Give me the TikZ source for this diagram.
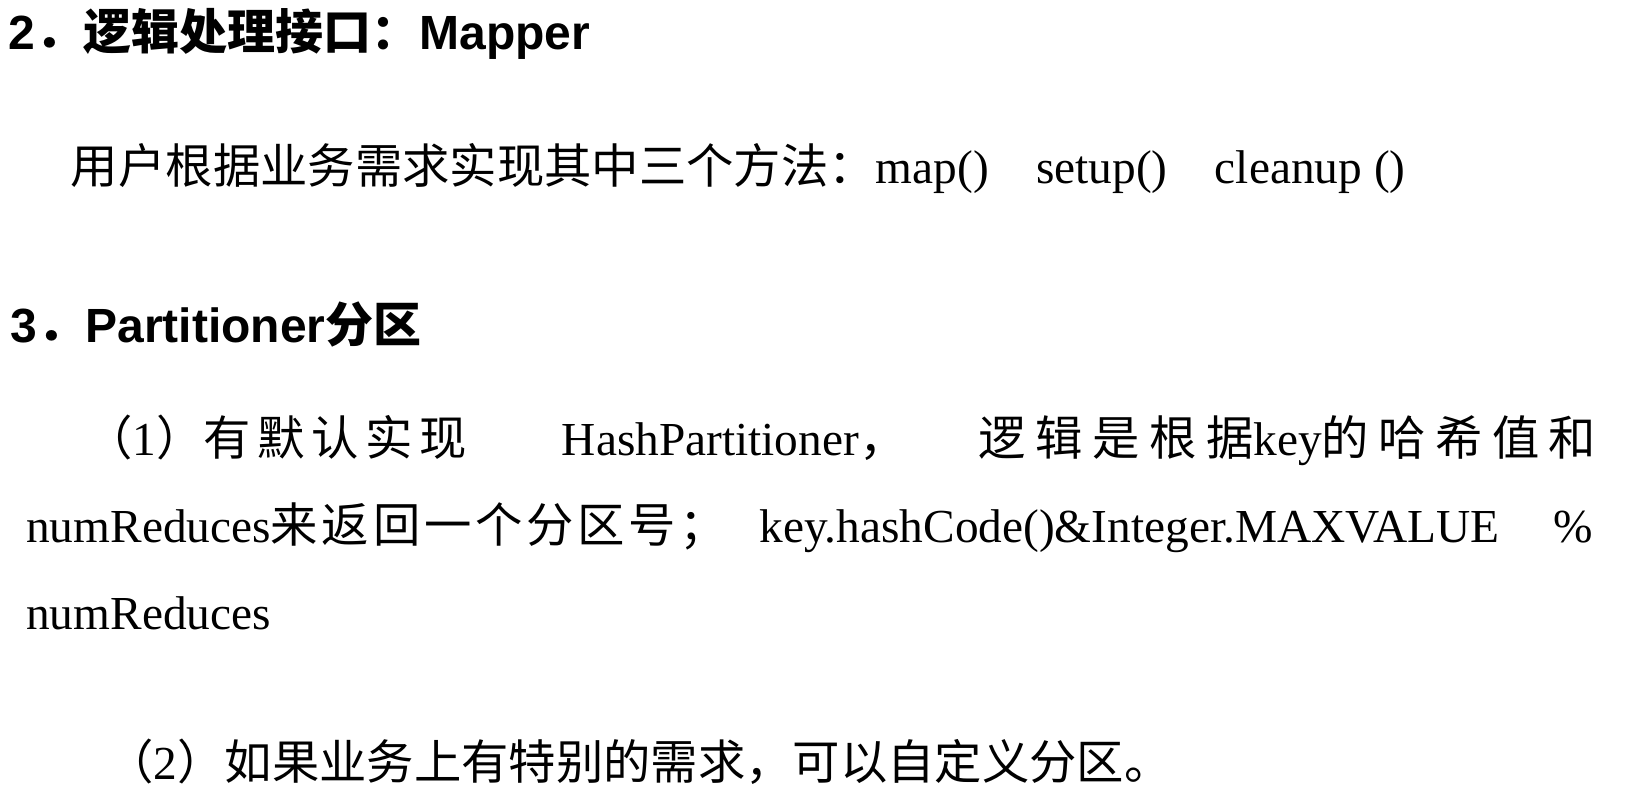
\documentclass[tikz,border=0pt]{standalone}
\usepackage{fontspec}
\setmainfont{Liberation Serif}
\newfontfamily\cjk{Noto Sans CJK SC}
\newfontfamily\hsans{Liberation Sans}
\begin{document}
\begin{tikzpicture}[x=0.78pt,y=-0.79pt,
 t/.style={inner sep=0pt,anchor=base west,font=\fontsize{35.5}{40}\selectfont},
 h/.style={inner sep=0pt,anchor=base west,font=\fontsize{36}{40}\selectfont\bfseries}]
\useasboundingbox[fill=white] (0,0) rectangle (1570,748);
\node[h] (h1) at (8,47) {\hsans 2\cjk．逻辑处理接口：\hsans Mapper};
\node[t] (l1) at (68,174) {\cjk 用户根据业务需求实现其中三个方法：\rmfamily map()\quad setup()\quad cleanup ()};
\node[h] (h2) at (10,325) {\hsans 3\cjk．\hsans Partitioner\cjk 分区};
\node[t] (a1) at (82,432) {\cjk （\rmfamily 1\cjk ）\addfontfeature{LetterSpace=14}有默认实现};
\node[t] (a2) at (540,432) {HashPartitioner\cjk ，};
\node[t,anchor=base east] (a3) at (1535,432) {\cjk\addfontfeature{LetterSpace=20}逻辑是根据\rmfamily key\cjk\addfontfeature{LetterSpace=20}的哈希值和};
\node[t] (b1) at (25,515) {numReduces\cjk\addfontfeature{LetterSpace=8}来返回一个分区号；};
\node[t] (b2) at (730,515) {key.hashCode()\&Integer.MAXVALUE};
\node[t,anchor=base east] (b3) at (1532,515) {\%};
\node[t] (c1) at (25,598) {numReduces};
\node[t] (d1) at (102,740) {\cjk （\rmfamily 2\cjk ）如果业务上有特别的需求，可以自定义分区。};
\end{tikzpicture}
\end{document}
